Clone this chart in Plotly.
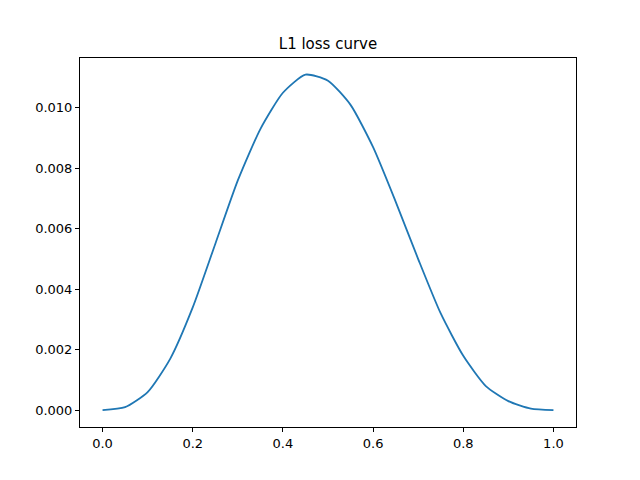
import plotly.graph_objects as go

x_vals = [0.0, 0.05, 0.1, 0.15, 0.2, 0.25, 0.3, 0.35, 0.4, 0.45, 0.5, 0.55, 0.6, 0.65, 0.7, 0.75, 0.8, 0.85, 0.9, 0.95, 1.0]
loss_vals = [0.0, 0.0001, 0.0006, 0.0017, 0.0034, 0.0055, 0.0076, 0.0093, 0.0105, 0.0111, 0.0109, 0.0101, 0.0087, 0.0069, 0.0050, 0.0032, 0.0018, 0.0008, 0.0003, 0.00005, 0.0]
x_ticks = [0.0, 0.2, 0.4, 0.6, 0.8, 1.0]
y_ticks = [0.0, 0.002, 0.004, 0.006, 0.008, 0.010]

fig = go.Figure(go.Scatter(x=x_vals, y=loss_vals, mode="lines",
                           line=dict(color="#1f77b4", width=1.8, shape="spline", smoothing=0.6)))
axis_common = dict(showline=True, mirror=True, linecolor="black", linewidth=1,
                   ticks="outside", ticklen=4, tickcolor="black", showgrid=False, zeroline=False,
                   tickfont=dict(size=13, color="black"))
fig.update_layout(
    width=640, height=480, margin=dict(l=72, r=72, t=50, b=61),
    plot_bgcolor="white", paper_bgcolor="white",
    font=dict(family="DejaVu Sans", color="black"),
    title=dict(text="L1 loss curve", x=0.5, xanchor="center", y=0.915, yanchor="bottom", font=dict(size=15)),
    xaxis=dict(range=[-0.05, 1.05], tickvals=x_ticks, ticktext=["0.0", "0.2", "0.4", "0.6", "0.8", "1.0"], **axis_common),
    yaxis=dict(range=[-0.000555, 0.01165], tickvals=y_ticks, ticktext=["0.000", "0.002", "0.004", "0.006", "0.008", "0.010"], **axis_common),
    showlegend=False,
)
fig.write_html("out.html")
